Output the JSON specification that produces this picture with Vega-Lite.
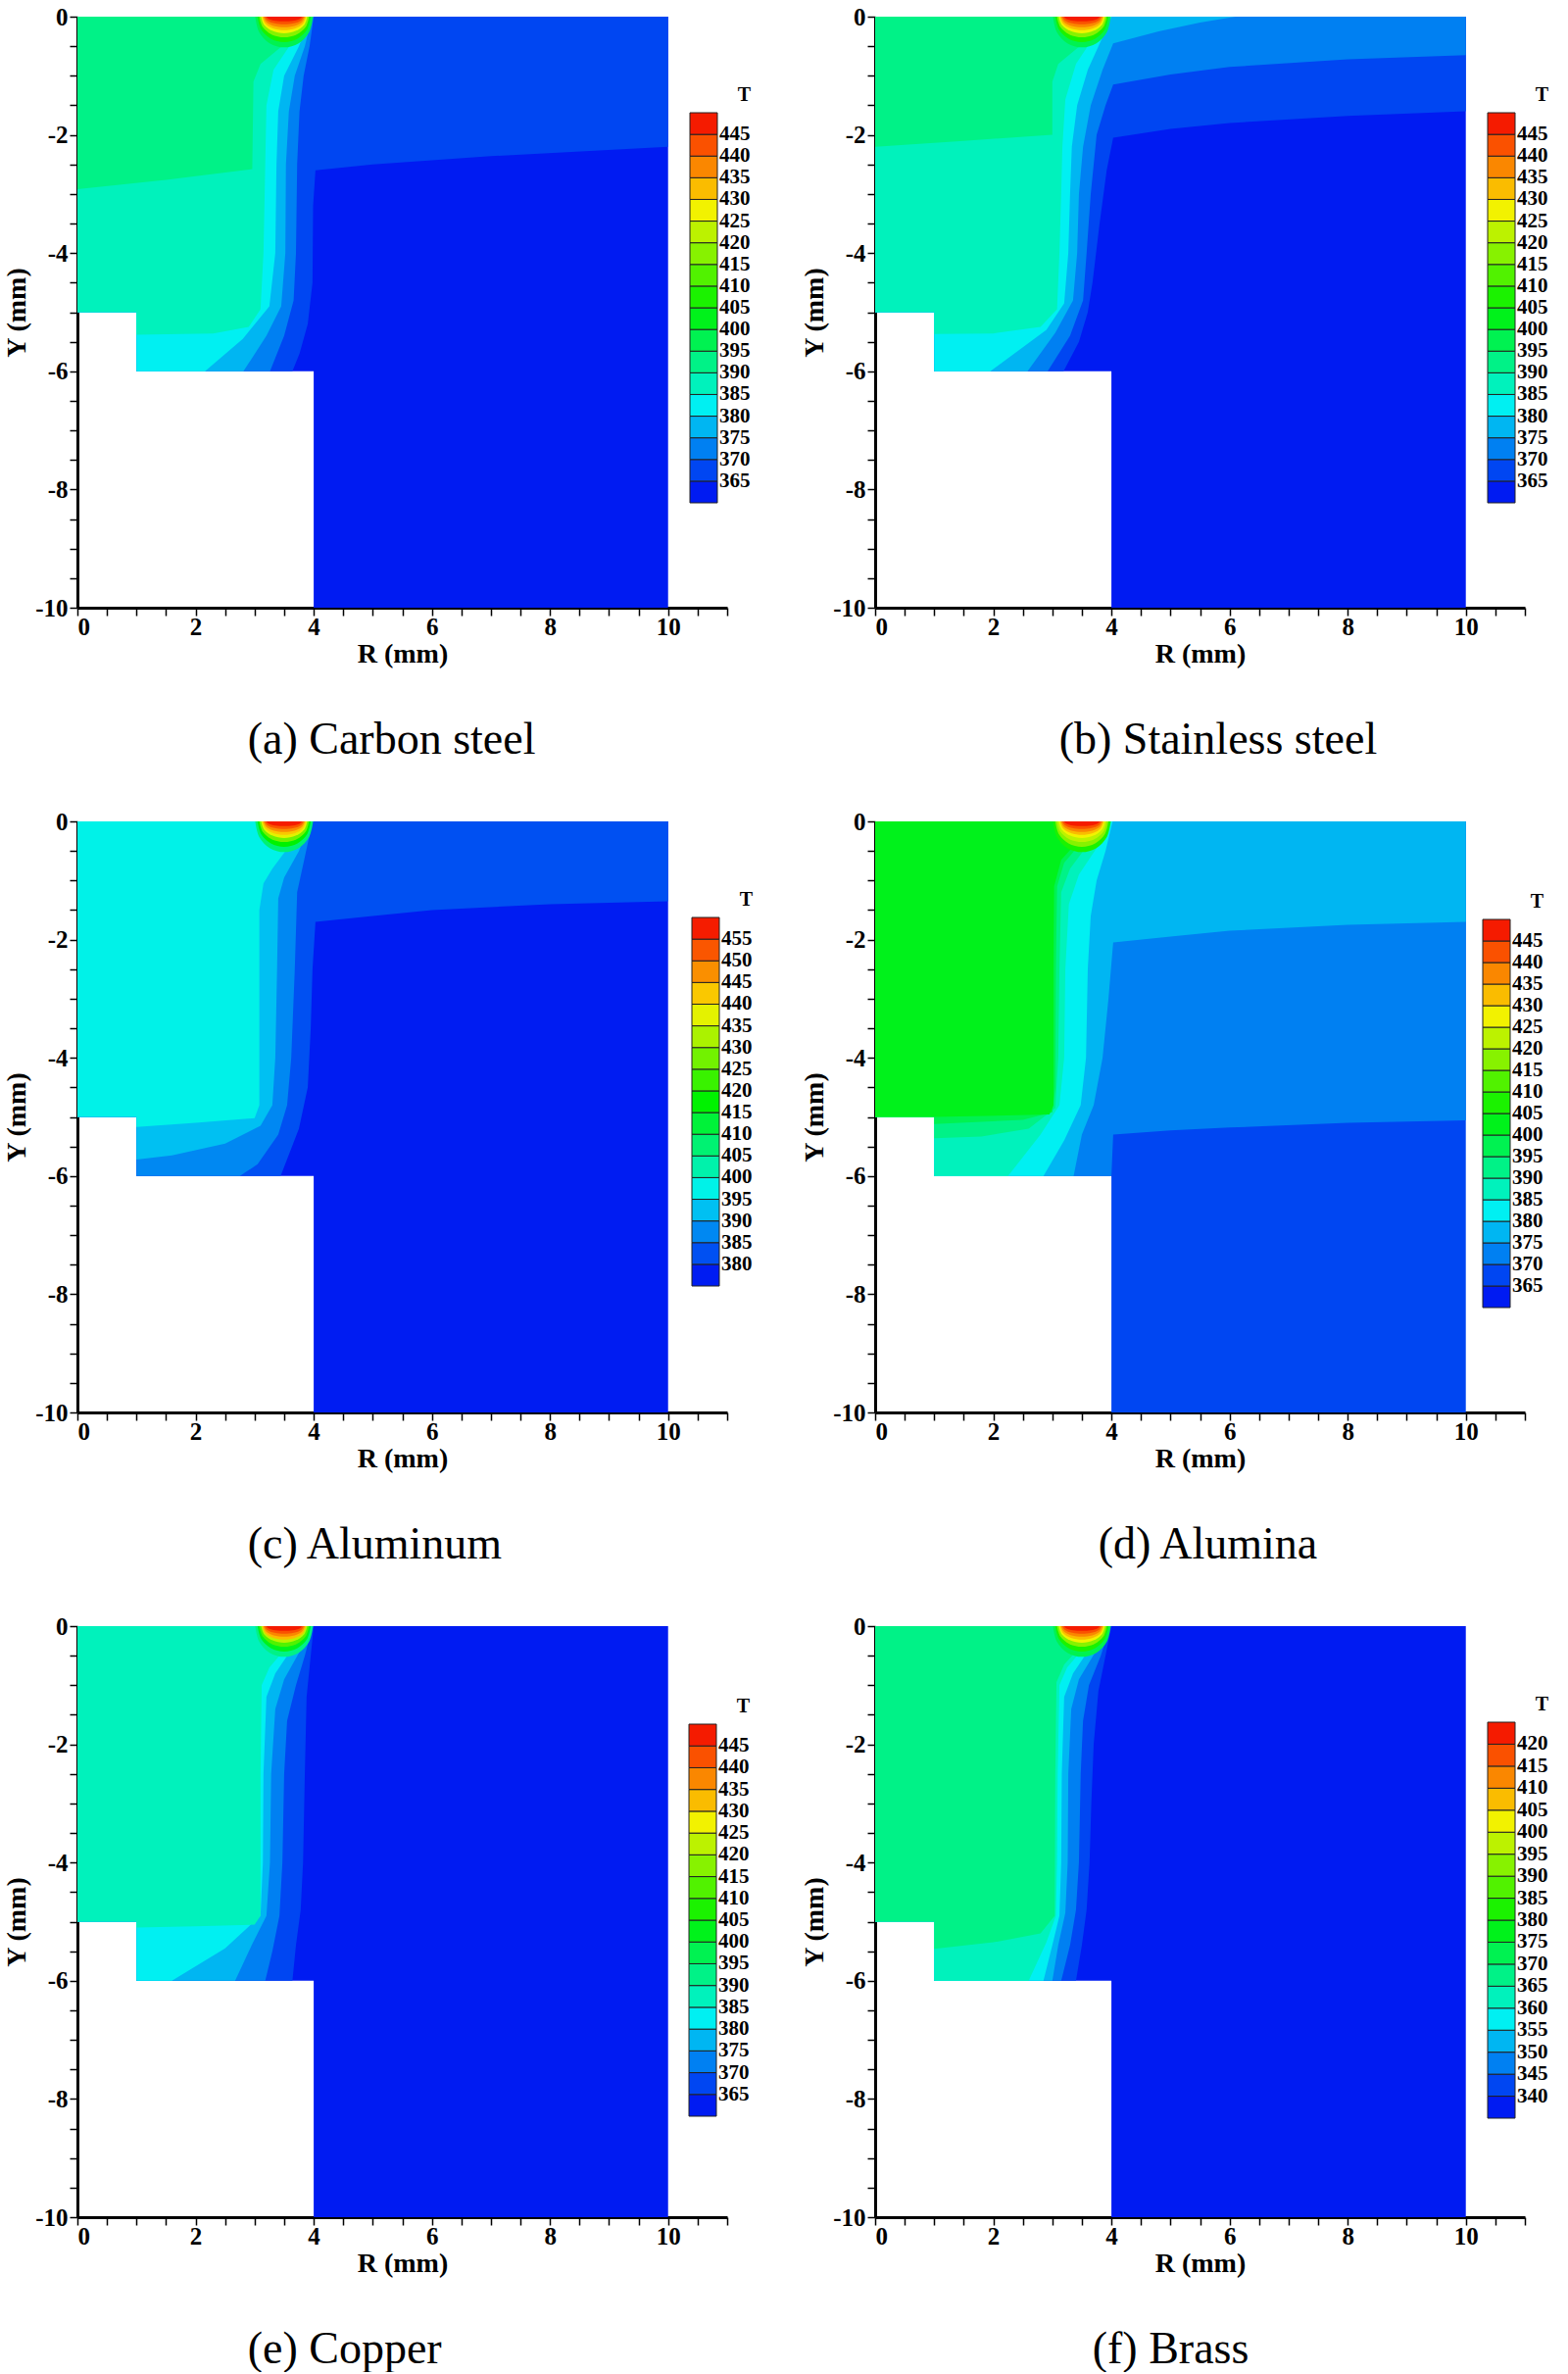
{
"$schema": "https://vega.github.io/schema/vega-lite/v6.json",
"background": "white",
"padding": {"left": 3, "top": 5, "right": 5, "bottom": 0},
"columns": 2,
"spacing": {"row": 218, "column": 151},
"bounds": "flush",
"resolve": {"scale": {"color": "independent", "x": "independent", "y": "independent"}, "legend": {"color": "independent"}},
"config": {
  "view": {"stroke": null},
  "axis": {"grid": false, "domainColor": "black", "domainWidth": 3, "tickColor": "black", "tickWidth": 1.5, "tickSize": 8, "labelFont": "Liberation Serif", "labelFontWeight": "bold", "labelFontSize": 25, "labelColor": "black", "labelPadding": 2, "labelOverlap": false, "labelBound": false, "titleFont": "Liberation Serif", "titleFontWeight": "bold", "titleFontSize": 28, "titleColor": "black"},
  "axisX": {"titlePadding": 1, "labelPadding": -1},
  "axisY": {"titlePadding": 4, "labelPadding": 2},
  "legend": {"gradientThickness": 28, "titleFont": "Liberation Serif", "titleFontSize": 20, "titleFontWeight": "bold", "titleColor": "black", "labelFont": "Liberation Serif", "labelFontSize": 21, "labelFontWeight": "bold", "labelColor": "black", "labelOverlap": false, "labelOffset": 12, "titlePadding": 8, "gradientStrokeColor": "#222222", "gradientStrokeWidth": 1, "padding": 0},
  "title": {"font": "Liberation Serif", "fontSize": 46, "fontWeight": "normal", "color": "black", "orient": "bottom", "anchor": "start", "offset": 52}
},
"datasets": {
"aB": [
{"g":"p0","o":0,"x":0,"y":0,"T":362},{"g":"p0","o":1,"x":10,"y":0,"T":362},{"g":"p0","o":2,"x":10,"y":-10,"T":362},{"g":"p0","o":3,"x":4,"y":-10,"T":362},{"g":"p0","o":4,"x":4,"y":-6,"T":362},{"g":"p0","o":5,"x":1,"y":-6,"T":362},{"g":"p0","o":6,"x":1,"y":-5,"T":362},{"g":"p0","o":7,"x":0,"y":-5,"T":362},
{"g":"p1","o":0,"x":0,"y":0,"T":367},{"g":"p1","o":1,"x":10,"y":0,"T":367},{"g":"p1","o":2,"x":10,"y":-2.2,"T":367},{"g":"p1","o":3,"x":7,"y":-2.36,"T":367},{"g":"p1","o":4,"x":5,"y":-2.5,"T":367},{"g":"p1","o":5,"x":4.03,"y":-2.6,"T":367},{"g":"p1","o":6,"x":3.99,"y":-3.2,"T":367},{"g":"p1","o":7,"x":3.98,"y":-4.5,"T":367},{"g":"p1","o":8,"x":3.9,"y":-5.2,"T":367},{"g":"p1","o":9,"x":3.76,"y":-5.7,"T":367},{"g":"p1","o":10,"x":3.64,"y":-6,"T":367},{"g":"p1","o":11,"x":1,"y":-6,"T":367},{"g":"p1","o":12,"x":1,"y":-5,"T":367},{"g":"p1","o":13,"x":0,"y":-5,"T":367},
{"g":"p2","o":0,"x":0,"y":0,"T":372},{"g":"p2","o":1,"x":4,"y":0,"T":372},{"g":"p2","o":2,"x":3.93,"y":-0.5,"T":372},{"g":"p2","o":3,"x":3.83,"y":-1,"T":372},{"g":"p2","o":4,"x":3.76,"y":-1.6,"T":372},{"g":"p2","o":5,"x":3.72,"y":-2.5,"T":372},{"g":"p2","o":6,"x":3.7,"y":-4,"T":372},{"g":"p2","o":7,"x":3.66,"y":-4.8,"T":372},{"g":"p2","o":8,"x":3.5,"y":-5.4,"T":372},{"g":"p2","o":9,"x":3.26,"y":-6,"T":372},{"g":"p2","o":10,"x":1,"y":-6,"T":372},{"g":"p2","o":11,"x":1,"y":-5,"T":372},{"g":"p2","o":12,"x":0,"y":-5,"T":372},
{"g":"p3","o":0,"x":0,"y":0,"T":377},{"g":"p3","o":1,"x":3.97,"y":0,"T":377},{"g":"p3","o":2,"x":3.85,"y":-0.5,"T":377},{"g":"p3","o":3,"x":3.68,"y":-1,"T":377},{"g":"p3","o":4,"x":3.58,"y":-1.6,"T":377},{"g":"p3","o":5,"x":3.53,"y":-2.5,"T":377},{"g":"p3","o":6,"x":3.52,"y":-4,"T":377},{"g":"p3","o":7,"x":3.45,"y":-4.9,"T":377},{"g":"p3","o":8,"x":3.2,"y":-5.4,"T":377},{"g":"p3","o":9,"x":2.81,"y":-6,"T":377},{"g":"p3","o":10,"x":1,"y":-6,"T":377},{"g":"p3","o":11,"x":1,"y":-5,"T":377},{"g":"p3","o":12,"x":0,"y":-5,"T":377},
{"g":"p4","o":0,"x":0,"y":0,"T":382},{"g":"p4","o":1,"x":3.95,"y":0,"T":382},{"g":"p4","o":2,"x":3.75,"y":-0.5,"T":382},{"g":"p4","o":3,"x":3.5,"y":-1,"T":382},{"g":"p4","o":4,"x":3.4,"y":-1.6,"T":382},{"g":"p4","o":5,"x":3.37,"y":-2.5,"T":382},{"g":"p4","o":6,"x":3.35,"y":-4,"T":382},{"g":"p4","o":7,"x":3.25,"y":-4.9,"T":382},{"g":"p4","o":8,"x":2.8,"y":-5.45,"T":382},{"g":"p4","o":9,"x":2.16,"y":-6,"T":382},{"g":"p4","o":10,"x":1,"y":-6,"T":382},{"g":"p4","o":11,"x":1,"y":-5,"T":382},{"g":"p4","o":12,"x":0,"y":-5,"T":382},
{"g":"p5","o":0,"x":0,"y":0,"T":387},{"g":"p5","o":1,"x":3.93,"y":0,"T":387},{"g":"p5","o":2,"x":3.62,"y":-0.45,"T":387},{"g":"p5","o":3,"x":3.32,"y":-0.9,"T":387},{"g":"p5","o":4,"x":3.2,"y":-1.5,"T":387},{"g":"p5","o":5,"x":3.18,"y":-2.5,"T":387},{"g":"p5","o":6,"x":3.15,"y":-4,"T":387},{"g":"p5","o":7,"x":3.1,"y":-4.95,"T":387},{"g":"p5","o":8,"x":2.9,"y":-5.25,"T":387},{"g":"p5","o":9,"x":2.3,"y":-5.36,"T":387},{"g":"p5","o":10,"x":1,"y":-5.38,"T":387},{"g":"p5","o":11,"x":1,"y":-5,"T":387},{"g":"p5","o":12,"x":0,"y":-5,"T":387},
{"g":"p6","o":0,"x":0,"y":0,"T":392},{"g":"p6","o":1,"x":3.9,"y":0,"T":392},{"g":"p6","o":2,"x":3.7,"y":-0.3,"T":392},{"g":"p6","o":3,"x":3.4,"y":-0.55,"T":392},{"g":"p6","o":4,"x":3.1,"y":-0.8,"T":392},{"g":"p6","o":5,"x":2.98,"y":-1.1,"T":392},{"g":"p6","o":6,"x":2.96,"y":-2.58,"T":392},{"g":"p6","o":7,"x":1.5,"y":-2.76,"T":392},{"g":"p6","o":8,"x":0,"y":-2.92,"T":392}
],
"aR": [
{"g":"r1","o":0,"x":3.01,"y":0,"T":397},{"g":"r1","o":1,"x":3.076,"y":-0.26,"T":397},{"g":"r1","o":2,"x":3.255,"y":-0.45,"T":397},{"g":"r1","o":3,"x":3.5,"y":-0.52,"T":397},{"g":"r1","o":4,"x":3.745,"y":-0.45,"T":397},{"g":"r1","o":5,"x":3.924,"y":-0.26,"T":397},{"g":"r1","o":6,"x":3.99,"y":0,"T":397},
{"g":"r2","o":0,"x":3.05,"y":0,"T":407},{"g":"r2","o":1,"x":3.11,"y":-0.215,"T":407},{"g":"r2","o":2,"x":3.275,"y":-0.372,"T":407},{"g":"r2","o":3,"x":3.5,"y":-0.43,"T":407},{"g":"r2","o":4,"x":3.725,"y":-0.372,"T":407},{"g":"r2","o":5,"x":3.89,"y":-0.215,"T":407},{"g":"r2","o":6,"x":3.95,"y":0,"T":407},
{"g":"r3","o":0,"x":3.08,"y":0,"T":417},{"g":"r3","o":1,"x":3.136,"y":-0.175,"T":417},{"g":"r3","o":2,"x":3.29,"y":-0.303,"T":417},{"g":"r3","o":3,"x":3.5,"y":-0.35,"T":417},{"g":"r3","o":4,"x":3.71,"y":-0.303,"T":417},{"g":"r3","o":5,"x":3.864,"y":-0.175,"T":417},{"g":"r3","o":6,"x":3.92,"y":0,"T":417},
{"g":"r4","o":0,"x":3.11,"y":0,"T":427},{"g":"r4","o":1,"x":3.162,"y":-0.14,"T":427},{"g":"r4","o":2,"x":3.305,"y":-0.242,"T":427},{"g":"r4","o":3,"x":3.5,"y":-0.28,"T":427},{"g":"r4","o":4,"x":3.695,"y":-0.242,"T":427},{"g":"r4","o":5,"x":3.838,"y":-0.14,"T":427},{"g":"r4","o":6,"x":3.89,"y":0,"T":427},
{"g":"r5","o":0,"x":3.13,"y":0,"T":432},{"g":"r5","o":1,"x":3.18,"y":-0.115,"T":432},{"g":"r5","o":2,"x":3.315,"y":-0.2,"T":432},{"g":"r5","o":3,"x":3.5,"y":-0.23,"T":432},{"g":"r5","o":4,"x":3.685,"y":-0.2,"T":432},{"g":"r5","o":5,"x":3.82,"y":-0.115,"T":432},{"g":"r5","o":6,"x":3.87,"y":0,"T":432},
{"g":"r6","o":0,"x":3.15,"y":0,"T":437},{"g":"r6","o":1,"x":3.197,"y":-0.09,"T":437},{"g":"r6","o":2,"x":3.325,"y":-0.156,"T":437},{"g":"r6","o":3,"x":3.5,"y":-0.18,"T":437},{"g":"r6","o":4,"x":3.675,"y":-0.156,"T":437},{"g":"r6","o":5,"x":3.803,"y":-0.09,"T":437},{"g":"r6","o":6,"x":3.85,"y":0,"T":437},
{"g":"r7","o":0,"x":3.17,"y":0,"T":442},{"g":"r7","o":1,"x":3.214,"y":-0.065,"T":442},{"g":"r7","o":2,"x":3.335,"y":-0.113,"T":442},{"g":"r7","o":3,"x":3.5,"y":-0.13,"T":442},{"g":"r7","o":4,"x":3.665,"y":-0.113,"T":442},{"g":"r7","o":5,"x":3.786,"y":-0.065,"T":442},{"g":"r7","o":6,"x":3.83,"y":0,"T":442},
{"g":"r8","o":0,"x":3.2,"y":0,"T":447},{"g":"r8","o":1,"x":3.24,"y":-0.04,"T":447},{"g":"r8","o":2,"x":3.35,"y":-0.069,"T":447},{"g":"r8","o":3,"x":3.5,"y":-0.08,"T":447},{"g":"r8","o":4,"x":3.65,"y":-0.069,"T":447},{"g":"r8","o":5,"x":3.76,"y":-0.04,"T":447},{"g":"r8","o":6,"x":3.8,"y":0,"T":447}
],
"bB": [
{"g":"p0","o":0,"x":0,"y":0,"T":362},{"g":"p0","o":1,"x":10,"y":0,"T":362},{"g":"p0","o":2,"x":10,"y":-10,"T":362},{"g":"p0","o":3,"x":4,"y":-10,"T":362},{"g":"p0","o":4,"x":4,"y":-6,"T":362},{"g":"p0","o":5,"x":1,"y":-6,"T":362},{"g":"p0","o":6,"x":1,"y":-5,"T":362},{"g":"p0","o":7,"x":0,"y":-5,"T":362},
{"g":"p1","o":0,"x":0,"y":0,"T":367},{"g":"p1","o":1,"x":10,"y":0,"T":367},{"g":"p1","o":2,"x":10,"y":-1.6,"T":367},{"g":"p1","o":3,"x":8,"y":-1.68,"T":367},{"g":"p1","o":4,"x":6,"y":-1.8,"T":367},{"g":"p1","o":5,"x":5,"y":-1.9,"T":367},{"g":"p1","o":6,"x":4.03,"y":-2.05,"T":367},{"g":"p1","o":7,"x":3.92,"y":-2.6,"T":367},{"g":"p1","o":8,"x":3.8,"y":-3.5,"T":367},{"g":"p1","o":9,"x":3.68,"y":-4.5,"T":367},{"g":"p1","o":10,"x":3.6,"y":-5,"T":367},{"g":"p1","o":11,"x":3.45,"y":-5.5,"T":367},{"g":"p1","o":12,"x":3.19,"y":-6,"T":367},{"g":"p1","o":13,"x":1,"y":-6,"T":367},{"g":"p1","o":14,"x":1,"y":-5,"T":367},{"g":"p1","o":15,"x":0,"y":-5,"T":367},
{"g":"p2","o":0,"x":0,"y":0,"T":372},{"g":"p2","o":1,"x":10,"y":0,"T":372},{"g":"p2","o":2,"x":10,"y":-0.65,"T":372},{"g":"p2","o":3,"x":8,"y":-0.72,"T":372},{"g":"p2","o":4,"x":6,"y":-0.85,"T":372},{"g":"p2","o":5,"x":5,"y":-0.98,"T":372},{"g":"p2","o":6,"x":4.03,"y":-1.15,"T":372},{"g":"p2","o":7,"x":3.9,"y":-1.5,"T":372},{"g":"p2","o":8,"x":3.75,"y":-2,"T":372},{"g":"p2","o":9,"x":3.65,"y":-3,"T":372},{"g":"p2","o":10,"x":3.58,"y":-4,"T":372},{"g":"p2","o":11,"x":3.52,"y":-4.8,"T":372},{"g":"p2","o":12,"x":3.3,"y":-5.4,"T":372},{"g":"p2","o":13,"x":2.92,"y":-6,"T":372},{"g":"p2","o":14,"x":1,"y":-6,"T":372},{"g":"p2","o":15,"x":1,"y":-5,"T":372},{"g":"p2","o":16,"x":0,"y":-5,"T":372},
{"g":"p3","o":0,"x":0,"y":0,"T":377},{"g":"p3","o":1,"x":6.1,"y":0,"T":377},{"g":"p3","o":2,"x":5.5,"y":-0.1,"T":377},{"g":"p3","o":3,"x":4.8,"y":-0.25,"T":377},{"g":"p3","o":4,"x":4.03,"y":-0.45,"T":377},{"g":"p3","o":5,"x":3.85,"y":-0.9,"T":377},{"g":"p3","o":6,"x":3.65,"y":-1.5,"T":377},{"g":"p3","o":7,"x":3.52,"y":-2.2,"T":377},{"g":"p3","o":8,"x":3.45,"y":-3,"T":377},{"g":"p3","o":9,"x":3.42,"y":-4,"T":377},{"g":"p3","o":10,"x":3.35,"y":-4.8,"T":377},{"g":"p3","o":11,"x":3.05,"y":-5.35,"T":377},{"g":"p3","o":12,"x":2.58,"y":-6,"T":377},{"g":"p3","o":13,"x":1,"y":-6,"T":377},{"g":"p3","o":14,"x":1,"y":-5,"T":377},{"g":"p3","o":15,"x":0,"y":-5,"T":377},
{"g":"p4","o":0,"x":0,"y":0,"T":382},{"g":"p4","o":1,"x":4,"y":0,"T":382},{"g":"p4","o":2,"x":3.85,"y":-0.35,"T":382},{"g":"p4","o":3,"x":3.6,"y":-0.9,"T":382},{"g":"p4","o":4,"x":3.42,"y":-1.5,"T":382},{"g":"p4","o":5,"x":3.33,"y":-2.2,"T":382},{"g":"p4","o":6,"x":3.3,"y":-3,"T":382},{"g":"p4","o":7,"x":3.27,"y":-4,"T":382},{"g":"p4","o":8,"x":3.2,"y":-4.85,"T":382},{"g":"p4","o":9,"x":2.9,"y":-5.3,"T":382},{"g":"p4","o":10,"x":1.95,"y":-6,"T":382},{"g":"p4","o":11,"x":1,"y":-6,"T":382},{"g":"p4","o":12,"x":1,"y":-5,"T":382},{"g":"p4","o":13,"x":0,"y":-5,"T":382},
{"g":"p5","o":0,"x":0,"y":0,"T":387},{"g":"p5","o":1,"x":3.95,"y":0,"T":387},{"g":"p5","o":2,"x":3.7,"y":-0.35,"T":387},{"g":"p5","o":3,"x":3.4,"y":-0.8,"T":387},{"g":"p5","o":4,"x":3.22,"y":-1.4,"T":387},{"g":"p5","o":5,"x":3.17,"y":-2.2,"T":387},{"g":"p5","o":6,"x":3.15,"y":-3,"T":387},{"g":"p5","o":7,"x":3.12,"y":-4,"T":387},{"g":"p5","o":8,"x":3.08,"y":-4.95,"T":387},{"g":"p5","o":9,"x":2.8,"y":-5.25,"T":387},{"g":"p5","o":10,"x":2,"y":-5.36,"T":387},{"g":"p5","o":11,"x":1,"y":-5.37,"T":387},{"g":"p5","o":12,"x":1,"y":-5,"T":387},{"g":"p5","o":13,"x":0,"y":-5,"T":387},
{"g":"p6","o":0,"x":0,"y":0,"T":392},{"g":"p6","o":1,"x":3.9,"y":0,"T":392},{"g":"p6","o":2,"x":3.7,"y":-0.3,"T":392},{"g":"p6","o":3,"x":3.4,"y":-0.55,"T":392},{"g":"p6","o":4,"x":3.1,"y":-0.8,"T":392},{"g":"p6","o":5,"x":3,"y":-1.1,"T":392},{"g":"p6","o":6,"x":3,"y":-2,"T":392},{"g":"p6","o":7,"x":1.5,"y":-2.1,"T":392},{"g":"p6","o":8,"x":0,"y":-2.2,"T":392}
],
"bR": [
{"g":"r1","o":0,"x":3.01,"y":0,"T":397},{"g":"r1","o":1,"x":3.076,"y":-0.26,"T":397},{"g":"r1","o":2,"x":3.255,"y":-0.45,"T":397},{"g":"r1","o":3,"x":3.5,"y":-0.52,"T":397},{"g":"r1","o":4,"x":3.745,"y":-0.45,"T":397},{"g":"r1","o":5,"x":3.924,"y":-0.26,"T":397},{"g":"r1","o":6,"x":3.99,"y":0,"T":397},
{"g":"r2","o":0,"x":3.05,"y":0,"T":407},{"g":"r2","o":1,"x":3.11,"y":-0.215,"T":407},{"g":"r2","o":2,"x":3.275,"y":-0.372,"T":407},{"g":"r2","o":3,"x":3.5,"y":-0.43,"T":407},{"g":"r2","o":4,"x":3.725,"y":-0.372,"T":407},{"g":"r2","o":5,"x":3.89,"y":-0.215,"T":407},{"g":"r2","o":6,"x":3.95,"y":0,"T":407},
{"g":"r3","o":0,"x":3.08,"y":0,"T":417},{"g":"r3","o":1,"x":3.136,"y":-0.175,"T":417},{"g":"r3","o":2,"x":3.29,"y":-0.303,"T":417},{"g":"r3","o":3,"x":3.5,"y":-0.35,"T":417},{"g":"r3","o":4,"x":3.71,"y":-0.303,"T":417},{"g":"r3","o":5,"x":3.864,"y":-0.175,"T":417},{"g":"r3","o":6,"x":3.92,"y":0,"T":417},
{"g":"r4","o":0,"x":3.11,"y":0,"T":427},{"g":"r4","o":1,"x":3.162,"y":-0.14,"T":427},{"g":"r4","o":2,"x":3.305,"y":-0.242,"T":427},{"g":"r4","o":3,"x":3.5,"y":-0.28,"T":427},{"g":"r4","o":4,"x":3.695,"y":-0.242,"T":427},{"g":"r4","o":5,"x":3.838,"y":-0.14,"T":427},{"g":"r4","o":6,"x":3.89,"y":0,"T":427},
{"g":"r5","o":0,"x":3.13,"y":0,"T":432},{"g":"r5","o":1,"x":3.18,"y":-0.115,"T":432},{"g":"r5","o":2,"x":3.315,"y":-0.2,"T":432},{"g":"r5","o":3,"x":3.5,"y":-0.23,"T":432},{"g":"r5","o":4,"x":3.685,"y":-0.2,"T":432},{"g":"r5","o":5,"x":3.82,"y":-0.115,"T":432},{"g":"r5","o":6,"x":3.87,"y":0,"T":432},
{"g":"r6","o":0,"x":3.15,"y":0,"T":437},{"g":"r6","o":1,"x":3.197,"y":-0.09,"T":437},{"g":"r6","o":2,"x":3.325,"y":-0.156,"T":437},{"g":"r6","o":3,"x":3.5,"y":-0.18,"T":437},{"g":"r6","o":4,"x":3.675,"y":-0.156,"T":437},{"g":"r6","o":5,"x":3.803,"y":-0.09,"T":437},{"g":"r6","o":6,"x":3.85,"y":0,"T":437},
{"g":"r7","o":0,"x":3.17,"y":0,"T":442},{"g":"r7","o":1,"x":3.214,"y":-0.065,"T":442},{"g":"r7","o":2,"x":3.335,"y":-0.113,"T":442},{"g":"r7","o":3,"x":3.5,"y":-0.13,"T":442},{"g":"r7","o":4,"x":3.665,"y":-0.113,"T":442},{"g":"r7","o":5,"x":3.786,"y":-0.065,"T":442},{"g":"r7","o":6,"x":3.83,"y":0,"T":442},
{"g":"r8","o":0,"x":3.2,"y":0,"T":447},{"g":"r8","o":1,"x":3.24,"y":-0.04,"T":447},{"g":"r8","o":2,"x":3.35,"y":-0.069,"T":447},{"g":"r8","o":3,"x":3.5,"y":-0.08,"T":447},{"g":"r8","o":4,"x":3.65,"y":-0.069,"T":447},{"g":"r8","o":5,"x":3.76,"y":-0.04,"T":447},{"g":"r8","o":6,"x":3.8,"y":0,"T":447}
],
"cB": [
{"g":"p0","o":0,"x":0,"y":0,"T":377},{"g":"p0","o":1,"x":10,"y":0,"T":377},{"g":"p0","o":2,"x":10,"y":-10,"T":377},{"g":"p0","o":3,"x":4,"y":-10,"T":377},{"g":"p0","o":4,"x":4,"y":-6,"T":377},{"g":"p0","o":5,"x":1,"y":-6,"T":377},{"g":"p0","o":6,"x":1,"y":-5,"T":377},{"g":"p0","o":7,"x":0,"y":-5,"T":377},
{"g":"p1","o":0,"x":0,"y":0,"T":382},{"g":"p1","o":1,"x":10,"y":0,"T":382},{"g":"p1","o":2,"x":10,"y":-1.35,"T":382},{"g":"p1","o":3,"x":8,"y":-1.4,"T":382},{"g":"p1","o":4,"x":6,"y":-1.5,"T":382},{"g":"p1","o":5,"x":5,"y":-1.6,"T":382},{"g":"p1","o":6,"x":4.03,"y":-1.7,"T":382},{"g":"p1","o":7,"x":3.98,"y":-2.5,"T":382},{"g":"p1","o":8,"x":3.95,"y":-3.5,"T":382},{"g":"p1","o":9,"x":3.9,"y":-4.5,"T":382},{"g":"p1","o":10,"x":3.75,"y":-5.2,"T":382},{"g":"p1","o":11,"x":3.44,"y":-6,"T":382},{"g":"p1","o":12,"x":1,"y":-6,"T":382},{"g":"p1","o":13,"x":1,"y":-5,"T":382},{"g":"p1","o":14,"x":0,"y":-5,"T":382},
{"g":"p2","o":0,"x":0,"y":0,"T":387},{"g":"p2","o":1,"x":3.98,"y":0,"T":387},{"g":"p2","o":2,"x":3.85,"y":-0.6,"T":387},{"g":"p2","o":3,"x":3.72,"y":-1.2,"T":387},{"g":"p2","o":4,"x":3.68,"y":-2.5,"T":387},{"g":"p2","o":5,"x":3.62,"y":-4,"T":387},{"g":"p2","o":6,"x":3.55,"y":-4.8,"T":387},{"g":"p2","o":7,"x":3.4,"y":-5.3,"T":387},{"g":"p2","o":8,"x":3.05,"y":-5.8,"T":387},{"g":"p2","o":9,"x":2.75,"y":-6,"T":387},{"g":"p2","o":10,"x":1,"y":-6,"T":387},{"g":"p2","o":11,"x":1,"y":-5,"T":387},{"g":"p2","o":12,"x":0,"y":-5,"T":387},
{"g":"p3","o":0,"x":0,"y":0,"T":392},{"g":"p3","o":1,"x":3.95,"y":0,"T":392},{"g":"p3","o":2,"x":3.75,"y":-0.5,"T":392},{"g":"p3","o":3,"x":3.5,"y":-0.95,"T":392},{"g":"p3","o":4,"x":3.4,"y":-1.3,"T":392},{"g":"p3","o":5,"x":3.38,"y":-2.5,"T":392},{"g":"p3","o":6,"x":3.35,"y":-4,"T":392},{"g":"p3","o":7,"x":3.3,"y":-4.8,"T":392},{"g":"p3","o":8,"x":3.1,"y":-5.15,"T":392},{"g":"p3","o":9,"x":2.5,"y":-5.45,"T":392},{"g":"p3","o":10,"x":1.6,"y":-5.65,"T":392},{"g":"p3","o":11,"x":1,"y":-5.72,"T":392},{"g":"p3","o":12,"x":1,"y":-5,"T":392},{"g":"p3","o":13,"x":0,"y":-5,"T":392},
{"g":"p4","o":0,"x":0,"y":0,"T":397},{"g":"p4","o":1,"x":3.9,"y":0,"T":397},{"g":"p4","o":2,"x":3.6,"y":-0.4,"T":397},{"g":"p4","o":3,"x":3.3,"y":-0.8,"T":397},{"g":"p4","o":4,"x":3.15,"y":-1.05,"T":397},{"g":"p4","o":5,"x":3.08,"y":-1.5,"T":397},{"g":"p4","o":6,"x":3.08,"y":-4.8,"T":397},{"g":"p4","o":7,"x":3,"y":-5.02,"T":397},{"g":"p4","o":8,"x":2,"y":-5.1,"T":397},{"g":"p4","o":9,"x":1,"y":-5.17,"T":397},{"g":"p4","o":10,"x":1,"y":-5,"T":397},{"g":"p4","o":11,"x":0,"y":-5,"T":397}
],
"cR": [
{"g":"r1","o":0,"x":3.01,"y":0,"T":407},{"g":"r1","o":1,"x":3.076,"y":-0.26,"T":407},{"g":"r1","o":2,"x":3.255,"y":-0.45,"T":407},{"g":"r1","o":3,"x":3.5,"y":-0.52,"T":407},{"g":"r1","o":4,"x":3.745,"y":-0.45,"T":407},{"g":"r1","o":5,"x":3.924,"y":-0.26,"T":407},{"g":"r1","o":6,"x":3.99,"y":0,"T":407},
{"g":"r2","o":0,"x":3.05,"y":0,"T":417},{"g":"r2","o":1,"x":3.11,"y":-0.215,"T":417},{"g":"r2","o":2,"x":3.275,"y":-0.372,"T":417},{"g":"r2","o":3,"x":3.5,"y":-0.43,"T":417},{"g":"r2","o":4,"x":3.725,"y":-0.372,"T":417},{"g":"r2","o":5,"x":3.89,"y":-0.215,"T":417},{"g":"r2","o":6,"x":3.95,"y":0,"T":417},
{"g":"r3","o":0,"x":3.08,"y":0,"T":427},{"g":"r3","o":1,"x":3.136,"y":-0.175,"T":427},{"g":"r3","o":2,"x":3.29,"y":-0.303,"T":427},{"g":"r3","o":3,"x":3.5,"y":-0.35,"T":427},{"g":"r3","o":4,"x":3.71,"y":-0.303,"T":427},{"g":"r3","o":5,"x":3.864,"y":-0.175,"T":427},{"g":"r3","o":6,"x":3.92,"y":0,"T":427},
{"g":"r4","o":0,"x":3.11,"y":0,"T":437},{"g":"r4","o":1,"x":3.162,"y":-0.14,"T":437},{"g":"r4","o":2,"x":3.305,"y":-0.242,"T":437},{"g":"r4","o":3,"x":3.5,"y":-0.28,"T":437},{"g":"r4","o":4,"x":3.695,"y":-0.242,"T":437},{"g":"r4","o":5,"x":3.838,"y":-0.14,"T":437},{"g":"r4","o":6,"x":3.89,"y":0,"T":437},
{"g":"r5","o":0,"x":3.13,"y":0,"T":442},{"g":"r5","o":1,"x":3.18,"y":-0.115,"T":442},{"g":"r5","o":2,"x":3.315,"y":-0.2,"T":442},{"g":"r5","o":3,"x":3.5,"y":-0.23,"T":442},{"g":"r5","o":4,"x":3.685,"y":-0.2,"T":442},{"g":"r5","o":5,"x":3.82,"y":-0.115,"T":442},{"g":"r5","o":6,"x":3.87,"y":0,"T":442},
{"g":"r6","o":0,"x":3.15,"y":0,"T":447},{"g":"r6","o":1,"x":3.197,"y":-0.09,"T":447},{"g":"r6","o":2,"x":3.325,"y":-0.156,"T":447},{"g":"r6","o":3,"x":3.5,"y":-0.18,"T":447},{"g":"r6","o":4,"x":3.675,"y":-0.156,"T":447},{"g":"r6","o":5,"x":3.803,"y":-0.09,"T":447},{"g":"r6","o":6,"x":3.85,"y":0,"T":447},
{"g":"r7","o":0,"x":3.17,"y":0,"T":452},{"g":"r7","o":1,"x":3.214,"y":-0.065,"T":452},{"g":"r7","o":2,"x":3.335,"y":-0.113,"T":452},{"g":"r7","o":3,"x":3.5,"y":-0.13,"T":452},{"g":"r7","o":4,"x":3.665,"y":-0.113,"T":452},{"g":"r7","o":5,"x":3.786,"y":-0.065,"T":452},{"g":"r7","o":6,"x":3.83,"y":0,"T":452},
{"g":"r8","o":0,"x":3.2,"y":0,"T":457},{"g":"r8","o":1,"x":3.24,"y":-0.04,"T":457},{"g":"r8","o":2,"x":3.35,"y":-0.069,"T":457},{"g":"r8","o":3,"x":3.5,"y":-0.08,"T":457},{"g":"r8","o":4,"x":3.65,"y":-0.069,"T":457},{"g":"r8","o":5,"x":3.76,"y":-0.04,"T":457},{"g":"r8","o":6,"x":3.8,"y":0,"T":457}
],
"dB": [
{"g":"p0","o":0,"x":0,"y":0,"T":367},{"g":"p0","o":1,"x":10,"y":0,"T":367},{"g":"p0","o":2,"x":10,"y":-10,"T":367},{"g":"p0","o":3,"x":4,"y":-10,"T":367},{"g":"p0","o":4,"x":4,"y":-6,"T":367},{"g":"p0","o":5,"x":1,"y":-6,"T":367},{"g":"p0","o":6,"x":1,"y":-5,"T":367},{"g":"p0","o":7,"x":0,"y":-5,"T":367},
{"g":"p1","o":0,"x":0,"y":0,"T":372},{"g":"p1","o":1,"x":10,"y":0,"T":372},{"g":"p1","o":2,"x":10,"y":-5.06,"T":372},{"g":"p1","o":3,"x":8,"y":-5.1,"T":372},{"g":"p1","o":4,"x":6,"y":-5.18,"T":372},{"g":"p1","o":5,"x":5,"y":-5.23,"T":372},{"g":"p1","o":6,"x":4.03,"y":-5.3,"T":372},{"g":"p1","o":7,"x":4,"y":-6,"T":372},{"g":"p1","o":8,"x":1,"y":-6,"T":372},{"g":"p1","o":9,"x":1,"y":-5,"T":372},{"g":"p1","o":10,"x":0,"y":-5,"T":372},
{"g":"p2","o":0,"x":0,"y":0,"T":377},{"g":"p2","o":1,"x":10,"y":0,"T":377},{"g":"p2","o":2,"x":10,"y":-1.7,"T":377},{"g":"p2","o":3,"x":8,"y":-1.75,"T":377},{"g":"p2","o":4,"x":6,"y":-1.85,"T":377},{"g":"p2","o":5,"x":5,"y":-1.95,"T":377},{"g":"p2","o":6,"x":4.03,"y":-2.05,"T":377},{"g":"p2","o":7,"x":3.95,"y":-3,"T":377},{"g":"p2","o":8,"x":3.85,"y":-4,"T":377},{"g":"p2","o":9,"x":3.7,"y":-4.8,"T":377},{"g":"p2","o":10,"x":3.5,"y":-5.3,"T":377},{"g":"p2","o":11,"x":3.36,"y":-6,"T":377},{"g":"p2","o":12,"x":1,"y":-6,"T":377},{"g":"p2","o":13,"x":1,"y":-5,"T":377},{"g":"p2","o":14,"x":0,"y":-5,"T":377},
{"g":"p3","o":0,"x":0,"y":0,"T":382},{"g":"p3","o":1,"x":4.02,"y":0,"T":382},{"g":"p3","o":2,"x":3.9,"y":-0.5,"T":382},{"g":"p3","o":3,"x":3.75,"y":-1,"T":382},{"g":"p3","o":4,"x":3.65,"y":-1.6,"T":382},{"g":"p3","o":5,"x":3.6,"y":-2.5,"T":382},{"g":"p3","o":6,"x":3.57,"y":-4,"T":382},{"g":"p3","o":7,"x":3.48,"y":-4.8,"T":382},{"g":"p3","o":8,"x":3.2,"y":-5.4,"T":382},{"g":"p3","o":9,"x":2.85,"y":-6,"T":382},{"g":"p3","o":10,"x":1,"y":-6,"T":382},{"g":"p3","o":11,"x":1,"y":-5,"T":382},{"g":"p3","o":12,"x":0,"y":-5,"T":382},
{"g":"p4","o":0,"x":0,"y":0,"T":387},{"g":"p4","o":1,"x":3.98,"y":0,"T":387},{"g":"p4","o":2,"x":3.75,"y":-0.45,"T":387},{"g":"p4","o":3,"x":3.45,"y":-0.9,"T":387},{"g":"p4","o":4,"x":3.28,"y":-1.4,"T":387},{"g":"p4","o":5,"x":3.22,"y":-2.5,"T":387},{"g":"p4","o":6,"x":3.2,"y":-4,"T":387},{"g":"p4","o":7,"x":3.12,"y":-4.8,"T":387},{"g":"p4","o":8,"x":2.8,"y":-5.3,"T":387},{"g":"p4","o":9,"x":2.25,"y":-6,"T":387},{"g":"p4","o":10,"x":1,"y":-6,"T":387},{"g":"p4","o":11,"x":1,"y":-5,"T":387},{"g":"p4","o":12,"x":0,"y":-5,"T":387},
{"g":"p5","o":0,"x":0,"y":0,"T":392},{"g":"p5","o":1,"x":3.95,"y":0,"T":392},{"g":"p5","o":2,"x":3.6,"y":-0.4,"T":392},{"g":"p5","o":3,"x":3.3,"y":-0.8,"T":392},{"g":"p5","o":4,"x":3.15,"y":-1.2,"T":392},{"g":"p5","o":5,"x":3.12,"y":-2.5,"T":392},{"g":"p5","o":6,"x":3.1,"y":-4,"T":392},{"g":"p5","o":7,"x":3.05,"y":-4.85,"T":392},{"g":"p5","o":8,"x":2.6,"y":-5.2,"T":392},{"g":"p5","o":9,"x":1.8,"y":-5.33,"T":392},{"g":"p5","o":10,"x":1,"y":-5.36,"T":392},{"g":"p5","o":11,"x":1,"y":-5,"T":392},{"g":"p5","o":12,"x":0,"y":-5,"T":392},
{"g":"p6","o":0,"x":0,"y":0,"T":397},{"g":"p6","o":1,"x":3.92,"y":0,"T":397},{"g":"p6","o":2,"x":3.5,"y":-0.35,"T":397},{"g":"p6","o":3,"x":3.2,"y":-0.7,"T":397},{"g":"p6","o":4,"x":3.08,"y":-1.1,"T":397},{"g":"p6","o":5,"x":3.06,"y":-2.5,"T":397},{"g":"p6","o":6,"x":3.05,"y":-4.5,"T":397},{"g":"p6","o":7,"x":3,"y":-4.92,"T":397},{"g":"p6","o":8,"x":2.5,"y":-5.05,"T":397},{"g":"p6","o":9,"x":1,"y":-5.12,"T":397},{"g":"p6","o":10,"x":1,"y":-5,"T":397},{"g":"p6","o":11,"x":0,"y":-5,"T":397},
{"g":"p7","o":0,"x":0,"y":0,"T":402},{"g":"p7","o":1,"x":3.9,"y":0,"T":402},{"g":"p7","o":2,"x":3.45,"y":-0.32,"T":402},{"g":"p7","o":3,"x":3.15,"y":-0.65,"T":402},{"g":"p7","o":4,"x":3.03,"y":-1.1,"T":402},{"g":"p7","o":5,"x":3.02,"y":-2.5,"T":402},{"g":"p7","o":6,"x":3.02,"y":-4.8,"T":402},{"g":"p7","o":7,"x":2.95,"y":-4.96,"T":402},{"g":"p7","o":8,"x":1,"y":-5,"T":402},{"g":"p7","o":9,"x":0,"y":-5,"T":402}
],
"dR": [
{"g":"r1","o":0,"x":3.01,"y":0,"T":407},{"g":"r1","o":1,"x":3.076,"y":-0.26,"T":407},{"g":"r1","o":2,"x":3.255,"y":-0.45,"T":407},{"g":"r1","o":3,"x":3.5,"y":-0.52,"T":407},{"g":"r1","o":4,"x":3.745,"y":-0.45,"T":407},{"g":"r1","o":5,"x":3.924,"y":-0.26,"T":407},{"g":"r1","o":6,"x":3.99,"y":0,"T":407},
{"g":"r2","o":0,"x":3.05,"y":0,"T":417},{"g":"r2","o":1,"x":3.11,"y":-0.215,"T":417},{"g":"r2","o":2,"x":3.275,"y":-0.372,"T":417},{"g":"r2","o":3,"x":3.5,"y":-0.43,"T":417},{"g":"r2","o":4,"x":3.725,"y":-0.372,"T":417},{"g":"r2","o":5,"x":3.89,"y":-0.215,"T":417},{"g":"r2","o":6,"x":3.95,"y":0,"T":417},
{"g":"r3","o":0,"x":3.08,"y":0,"T":422},{"g":"r3","o":1,"x":3.136,"y":-0.175,"T":422},{"g":"r3","o":2,"x":3.29,"y":-0.303,"T":422},{"g":"r3","o":3,"x":3.5,"y":-0.35,"T":422},{"g":"r3","o":4,"x":3.71,"y":-0.303,"T":422},{"g":"r3","o":5,"x":3.864,"y":-0.175,"T":422},{"g":"r3","o":6,"x":3.92,"y":0,"T":422},
{"g":"r4","o":0,"x":3.11,"y":0,"T":427},{"g":"r4","o":1,"x":3.162,"y":-0.14,"T":427},{"g":"r4","o":2,"x":3.305,"y":-0.242,"T":427},{"g":"r4","o":3,"x":3.5,"y":-0.28,"T":427},{"g":"r4","o":4,"x":3.695,"y":-0.242,"T":427},{"g":"r4","o":5,"x":3.838,"y":-0.14,"T":427},{"g":"r4","o":6,"x":3.89,"y":0,"T":427},
{"g":"r5","o":0,"x":3.13,"y":0,"T":432},{"g":"r5","o":1,"x":3.18,"y":-0.115,"T":432},{"g":"r5","o":2,"x":3.315,"y":-0.2,"T":432},{"g":"r5","o":3,"x":3.5,"y":-0.23,"T":432},{"g":"r5","o":4,"x":3.685,"y":-0.2,"T":432},{"g":"r5","o":5,"x":3.82,"y":-0.115,"T":432},{"g":"r5","o":6,"x":3.87,"y":0,"T":432},
{"g":"r6","o":0,"x":3.15,"y":0,"T":437},{"g":"r6","o":1,"x":3.197,"y":-0.09,"T":437},{"g":"r6","o":2,"x":3.325,"y":-0.156,"T":437},{"g":"r6","o":3,"x":3.5,"y":-0.18,"T":437},{"g":"r6","o":4,"x":3.675,"y":-0.156,"T":437},{"g":"r6","o":5,"x":3.803,"y":-0.09,"T":437},{"g":"r6","o":6,"x":3.85,"y":0,"T":437},
{"g":"r7","o":0,"x":3.17,"y":0,"T":442},{"g":"r7","o":1,"x":3.214,"y":-0.065,"T":442},{"g":"r7","o":2,"x":3.335,"y":-0.113,"T":442},{"g":"r7","o":3,"x":3.5,"y":-0.13,"T":442},{"g":"r7","o":4,"x":3.665,"y":-0.113,"T":442},{"g":"r7","o":5,"x":3.786,"y":-0.065,"T":442},{"g":"r7","o":6,"x":3.83,"y":0,"T":442},
{"g":"r8","o":0,"x":3.2,"y":0,"T":447},{"g":"r8","o":1,"x":3.24,"y":-0.04,"T":447},{"g":"r8","o":2,"x":3.35,"y":-0.069,"T":447},{"g":"r8","o":3,"x":3.5,"y":-0.08,"T":447},{"g":"r8","o":4,"x":3.65,"y":-0.069,"T":447},{"g":"r8","o":5,"x":3.76,"y":-0.04,"T":447},{"g":"r8","o":6,"x":3.8,"y":0,"T":447}
],
"eB": [
{"g":"p0","o":0,"x":0,"y":0,"T":362},{"g":"p0","o":1,"x":10,"y":0,"T":362},{"g":"p0","o":2,"x":10,"y":-10,"T":362},{"g":"p0","o":3,"x":4,"y":-10,"T":362},{"g":"p0","o":4,"x":4,"y":-6,"T":362},{"g":"p0","o":5,"x":1,"y":-6,"T":362},{"g":"p0","o":6,"x":1,"y":-5,"T":362},{"g":"p0","o":7,"x":0,"y":-5,"T":362},
{"g":"p1","o":0,"x":0,"y":0,"T":367},{"g":"p1","o":1,"x":4,"y":0,"T":367},{"g":"p1","o":2,"x":3.95,"y":-0.5,"T":367},{"g":"p1","o":3,"x":3.88,"y":-1.2,"T":367},{"g":"p1","o":4,"x":3.85,"y":-2.5,"T":367},{"g":"p1","o":5,"x":3.82,"y":-4,"T":367},{"g":"p1","o":6,"x":3.78,"y":-4.8,"T":367},{"g":"p1","o":7,"x":3.7,"y":-5.4,"T":367},{"g":"p1","o":8,"x":3.64,"y":-6,"T":367},{"g":"p1","o":9,"x":1,"y":-6,"T":367},{"g":"p1","o":10,"x":1,"y":-5,"T":367},{"g":"p1","o":11,"x":0,"y":-5,"T":367},
{"g":"p2","o":0,"x":0,"y":0,"T":372},{"g":"p2","o":1,"x":3.98,"y":0,"T":372},{"g":"p2","o":2,"x":3.85,"y":-0.5,"T":372},{"g":"p2","o":3,"x":3.7,"y":-1,"T":372},{"g":"p2","o":4,"x":3.55,"y":-1.6,"T":372},{"g":"p2","o":5,"x":3.5,"y":-2.5,"T":372},{"g":"p2","o":6,"x":3.47,"y":-4,"T":372},{"g":"p2","o":7,"x":3.42,"y":-4.9,"T":372},{"g":"p2","o":8,"x":3.3,"y":-5.5,"T":372},{"g":"p2","o":9,"x":3.18,"y":-6,"T":372},{"g":"p2","o":10,"x":1,"y":-6,"T":372},{"g":"p2","o":11,"x":1,"y":-5,"T":372},{"g":"p2","o":12,"x":0,"y":-5,"T":372},
{"g":"p3","o":0,"x":0,"y":0,"T":377},{"g":"p3","o":1,"x":3.95,"y":0,"T":377},{"g":"p3","o":2,"x":3.75,"y":-0.45,"T":377},{"g":"p3","o":3,"x":3.5,"y":-0.9,"T":377},{"g":"p3","o":4,"x":3.35,"y":-1.4,"T":377},{"g":"p3","o":5,"x":3.28,"y":-2.5,"T":377},{"g":"p3","o":6,"x":3.26,"y":-4,"T":377},{"g":"p3","o":7,"x":3.2,"y":-4.9,"T":377},{"g":"p3","o":8,"x":2.95,"y":-5.4,"T":377},{"g":"p3","o":9,"x":2.67,"y":-6,"T":377},{"g":"p3","o":10,"x":1,"y":-6,"T":377},{"g":"p3","o":11,"x":1,"y":-5,"T":377},{"g":"p3","o":12,"x":0,"y":-5,"T":377},
{"g":"p4","o":0,"x":0,"y":0,"T":382},{"g":"p4","o":1,"x":3.92,"y":0,"T":382},{"g":"p4","o":2,"x":3.62,"y":-0.4,"T":382},{"g":"p4","o":3,"x":3.35,"y":-0.8,"T":382},{"g":"p4","o":4,"x":3.2,"y":-1.2,"T":382},{"g":"p4","o":5,"x":3.15,"y":-2.5,"T":382},{"g":"p4","o":6,"x":3.14,"y":-4,"T":382},{"g":"p4","o":7,"x":3.1,"y":-4.9,"T":382},{"g":"p4","o":8,"x":2.5,"y":-5.45,"T":382},{"g":"p4","o":9,"x":1.6,"y":-6,"T":382},{"g":"p4","o":10,"x":1,"y":-6,"T":382},{"g":"p4","o":11,"x":1,"y":-5,"T":382},{"g":"p4","o":12,"x":0,"y":-5,"T":382},
{"g":"p5","o":0,"x":0,"y":0,"T":387},{"g":"p5","o":1,"x":3.9,"y":0,"T":387},{"g":"p5","o":2,"x":3.55,"y":-0.35,"T":387},{"g":"p5","o":3,"x":3.25,"y":-0.7,"T":387},{"g":"p5","o":4,"x":3.12,"y":-1,"T":387},{"g":"p5","o":5,"x":3.1,"y":-2.5,"T":387},{"g":"p5","o":6,"x":3.1,"y":-4.9,"T":387},{"g":"p5","o":7,"x":3,"y":-5.05,"T":387},{"g":"p5","o":8,"x":2,"y":-5.08,"T":387},{"g":"p5","o":9,"x":1,"y":-5.1,"T":387},{"g":"p5","o":10,"x":1,"y":-5,"T":387},{"g":"p5","o":11,"x":0,"y":-5,"T":387}
],
"eR": [
{"g":"r1","o":0,"x":3.01,"y":0,"T":392},{"g":"r1","o":1,"x":3.076,"y":-0.26,"T":392},{"g":"r1","o":2,"x":3.255,"y":-0.45,"T":392},{"g":"r1","o":3,"x":3.5,"y":-0.52,"T":392},{"g":"r1","o":4,"x":3.745,"y":-0.45,"T":392},{"g":"r1","o":5,"x":3.924,"y":-0.26,"T":392},{"g":"r1","o":6,"x":3.99,"y":0,"T":392},
{"g":"r2","o":0,"x":3.05,"y":0,"T":402},{"g":"r2","o":1,"x":3.11,"y":-0.215,"T":402},{"g":"r2","o":2,"x":3.275,"y":-0.372,"T":402},{"g":"r2","o":3,"x":3.5,"y":-0.43,"T":402},{"g":"r2","o":4,"x":3.725,"y":-0.372,"T":402},{"g":"r2","o":5,"x":3.89,"y":-0.215,"T":402},{"g":"r2","o":6,"x":3.95,"y":0,"T":402},
{"g":"r3","o":0,"x":3.08,"y":0,"T":412},{"g":"r3","o":1,"x":3.136,"y":-0.175,"T":412},{"g":"r3","o":2,"x":3.29,"y":-0.303,"T":412},{"g":"r3","o":3,"x":3.5,"y":-0.35,"T":412},{"g":"r3","o":4,"x":3.71,"y":-0.303,"T":412},{"g":"r3","o":5,"x":3.864,"y":-0.175,"T":412},{"g":"r3","o":6,"x":3.92,"y":0,"T":412},
{"g":"r4","o":0,"x":3.11,"y":0,"T":422},{"g":"r4","o":1,"x":3.162,"y":-0.14,"T":422},{"g":"r4","o":2,"x":3.305,"y":-0.242,"T":422},{"g":"r4","o":3,"x":3.5,"y":-0.28,"T":422},{"g":"r4","o":4,"x":3.695,"y":-0.242,"T":422},{"g":"r4","o":5,"x":3.838,"y":-0.14,"T":422},{"g":"r4","o":6,"x":3.89,"y":0,"T":422},
{"g":"r5","o":0,"x":3.13,"y":0,"T":432},{"g":"r5","o":1,"x":3.18,"y":-0.115,"T":432},{"g":"r5","o":2,"x":3.315,"y":-0.2,"T":432},{"g":"r5","o":3,"x":3.5,"y":-0.23,"T":432},{"g":"r5","o":4,"x":3.685,"y":-0.2,"T":432},{"g":"r5","o":5,"x":3.82,"y":-0.115,"T":432},{"g":"r5","o":6,"x":3.87,"y":0,"T":432},
{"g":"r6","o":0,"x":3.15,"y":0,"T":437},{"g":"r6","o":1,"x":3.197,"y":-0.09,"T":437},{"g":"r6","o":2,"x":3.325,"y":-0.156,"T":437},{"g":"r6","o":3,"x":3.5,"y":-0.18,"T":437},{"g":"r6","o":4,"x":3.675,"y":-0.156,"T":437},{"g":"r6","o":5,"x":3.803,"y":-0.09,"T":437},{"g":"r6","o":6,"x":3.85,"y":0,"T":437},
{"g":"r7","o":0,"x":3.17,"y":0,"T":442},{"g":"r7","o":1,"x":3.214,"y":-0.065,"T":442},{"g":"r7","o":2,"x":3.335,"y":-0.113,"T":442},{"g":"r7","o":3,"x":3.5,"y":-0.13,"T":442},{"g":"r7","o":4,"x":3.665,"y":-0.113,"T":442},{"g":"r7","o":5,"x":3.786,"y":-0.065,"T":442},{"g":"r7","o":6,"x":3.83,"y":0,"T":442},
{"g":"r8","o":0,"x":3.2,"y":0,"T":447},{"g":"r8","o":1,"x":3.24,"y":-0.04,"T":447},{"g":"r8","o":2,"x":3.35,"y":-0.069,"T":447},{"g":"r8","o":3,"x":3.5,"y":-0.08,"T":447},{"g":"r8","o":4,"x":3.65,"y":-0.069,"T":447},{"g":"r8","o":5,"x":3.76,"y":-0.04,"T":447},{"g":"r8","o":6,"x":3.8,"y":0,"T":447}
],
"fB": [
{"g":"p0","o":0,"x":0,"y":0,"T":337},{"g":"p0","o":1,"x":10,"y":0,"T":337},{"g":"p0","o":2,"x":10,"y":-10,"T":337},{"g":"p0","o":3,"x":4,"y":-10,"T":337},{"g":"p0","o":4,"x":4,"y":-6,"T":337},{"g":"p0","o":5,"x":1,"y":-6,"T":337},{"g":"p0","o":6,"x":1,"y":-5,"T":337},{"g":"p0","o":7,"x":0,"y":-5,"T":337},
{"g":"p1","o":0,"x":0,"y":0,"T":342},{"g":"p1","o":1,"x":4,"y":0,"T":342},{"g":"p1","o":2,"x":3.9,"y":-0.5,"T":342},{"g":"p1","o":3,"x":3.78,"y":-1.1,"T":342},{"g":"p1","o":4,"x":3.7,"y":-2,"T":342},{"g":"p1","o":5,"x":3.66,"y":-3,"T":342},{"g":"p1","o":6,"x":3.63,"y":-4,"T":342},{"g":"p1","o":7,"x":3.58,"y":-4.8,"T":342},{"g":"p1","o":8,"x":3.5,"y":-5.4,"T":342},{"g":"p1","o":9,"x":3.4,"y":-6,"T":342},{"g":"p1","o":10,"x":1,"y":-6,"T":342},{"g":"p1","o":11,"x":1,"y":-5,"T":342},{"g":"p1","o":12,"x":0,"y":-5,"T":342},
{"g":"p2","o":0,"x":0,"y":0,"T":347},{"g":"p2","o":1,"x":3.98,"y":0,"T":347},{"g":"p2","o":2,"x":3.82,"y":-0.5,"T":347},{"g":"p2","o":3,"x":3.62,"y":-1,"T":347},{"g":"p2","o":4,"x":3.52,"y":-1.6,"T":347},{"g":"p2","o":5,"x":3.48,"y":-2.5,"T":347},{"g":"p2","o":6,"x":3.45,"y":-4,"T":347},{"g":"p2","o":7,"x":3.4,"y":-4.8,"T":347},{"g":"p2","o":8,"x":3.3,"y":-5.4,"T":347},{"g":"p2","o":9,"x":3.15,"y":-6,"T":347},{"g":"p2","o":10,"x":1,"y":-6,"T":347},{"g":"p2","o":11,"x":1,"y":-5,"T":347},{"g":"p2","o":12,"x":0,"y":-5,"T":347},
{"g":"p3","o":0,"x":0,"y":0,"T":352},{"g":"p3","o":1,"x":3.95,"y":0,"T":352},{"g":"p3","o":2,"x":3.72,"y":-0.45,"T":352},{"g":"p3","o":3,"x":3.45,"y":-0.9,"T":352},{"g":"p3","o":4,"x":3.32,"y":-1.4,"T":352},{"g":"p3","o":5,"x":3.27,"y":-2.5,"T":352},{"g":"p3","o":6,"x":3.26,"y":-4,"T":352},{"g":"p3","o":7,"x":3.22,"y":-4.85,"T":352},{"g":"p3","o":8,"x":3.1,"y":-5.4,"T":352},{"g":"p3","o":9,"x":3,"y":-6,"T":352},{"g":"p3","o":10,"x":1,"y":-6,"T":352},{"g":"p3","o":11,"x":1,"y":-5,"T":352},{"g":"p3","o":12,"x":0,"y":-5,"T":352},
{"g":"p4","o":0,"x":0,"y":0,"T":357},{"g":"p4","o":1,"x":3.93,"y":0,"T":357},{"g":"p4","o":2,"x":3.62,"y":-0.4,"T":357},{"g":"p4","o":3,"x":3.35,"y":-0.8,"T":357},{"g":"p4","o":4,"x":3.2,"y":-1.2,"T":357},{"g":"p4","o":5,"x":3.16,"y":-2.5,"T":357},{"g":"p4","o":6,"x":3.15,"y":-4,"T":357},{"g":"p4","o":7,"x":3.12,"y":-4.9,"T":357},{"g":"p4","o":8,"x":3,"y":-5.4,"T":357},{"g":"p4","o":9,"x":2.85,"y":-6,"T":357},{"g":"p4","o":10,"x":1,"y":-6,"T":357},{"g":"p4","o":11,"x":1,"y":-5,"T":357},{"g":"p4","o":12,"x":0,"y":-5,"T":357},
{"g":"p5","o":0,"x":0,"y":0,"T":362},{"g":"p5","o":1,"x":3.9,"y":0,"T":362},{"g":"p5","o":2,"x":3.55,"y":-0.35,"T":362},{"g":"p5","o":3,"x":3.25,"y":-0.7,"T":362},{"g":"p5","o":4,"x":3.12,"y":-1,"T":362},{"g":"p5","o":5,"x":3.09,"y":-2.5,"T":362},{"g":"p5","o":6,"x":3.08,"y":-4,"T":362},{"g":"p5","o":7,"x":3.06,"y":-4.9,"T":362},{"g":"p5","o":8,"x":2.9,"y":-5.35,"T":362},{"g":"p5","o":9,"x":2.6,"y":-6,"T":362},{"g":"p5","o":10,"x":1,"y":-6,"T":362},{"g":"p5","o":11,"x":1,"y":-5,"T":362},{"g":"p5","o":12,"x":0,"y":-5,"T":362},
{"g":"p6","o":0,"x":0,"y":0,"T":367},{"g":"p6","o":1,"x":3.88,"y":0,"T":367},{"g":"p6","o":2,"x":3.5,"y":-0.32,"T":367},{"g":"p6","o":3,"x":3.2,"y":-0.65,"T":367},{"g":"p6","o":4,"x":3.07,"y":-0.95,"T":367},{"g":"p6","o":5,"x":3.05,"y":-2.5,"T":367},{"g":"p6","o":6,"x":3.04,"y":-4.9,"T":367},{"g":"p6","o":7,"x":2.8,"y":-5.2,"T":367},{"g":"p6","o":8,"x":2,"y":-5.35,"T":367},{"g":"p6","o":9,"x":1,"y":-5.46,"T":367},{"g":"p6","o":10,"x":1,"y":-5,"T":367},{"g":"p6","o":11,"x":0,"y":-5,"T":367}
],
"fR": [
{"g":"r1","o":0,"x":3.01,"y":0,"T":372},{"g":"r1","o":1,"x":3.076,"y":-0.26,"T":372},{"g":"r1","o":2,"x":3.255,"y":-0.45,"T":372},{"g":"r1","o":3,"x":3.5,"y":-0.52,"T":372},{"g":"r1","o":4,"x":3.745,"y":-0.45,"T":372},{"g":"r1","o":5,"x":3.924,"y":-0.26,"T":372},{"g":"r1","o":6,"x":3.99,"y":0,"T":372},
{"g":"r2","o":0,"x":3.05,"y":0,"T":382},{"g":"r2","o":1,"x":3.11,"y":-0.215,"T":382},{"g":"r2","o":2,"x":3.275,"y":-0.372,"T":382},{"g":"r2","o":3,"x":3.5,"y":-0.43,"T":382},{"g":"r2","o":4,"x":3.725,"y":-0.372,"T":382},{"g":"r2","o":5,"x":3.89,"y":-0.215,"T":382},{"g":"r2","o":6,"x":3.95,"y":0,"T":382},
{"g":"r3","o":0,"x":3.08,"y":0,"T":392},{"g":"r3","o":1,"x":3.136,"y":-0.175,"T":392},{"g":"r3","o":2,"x":3.29,"y":-0.303,"T":392},{"g":"r3","o":3,"x":3.5,"y":-0.35,"T":392},{"g":"r3","o":4,"x":3.71,"y":-0.303,"T":392},{"g":"r3","o":5,"x":3.864,"y":-0.175,"T":392},{"g":"r3","o":6,"x":3.92,"y":0,"T":392},
{"g":"r4","o":0,"x":3.11,"y":0,"T":402},{"g":"r4","o":1,"x":3.162,"y":-0.14,"T":402},{"g":"r4","o":2,"x":3.305,"y":-0.242,"T":402},{"g":"r4","o":3,"x":3.5,"y":-0.28,"T":402},{"g":"r4","o":4,"x":3.695,"y":-0.242,"T":402},{"g":"r4","o":5,"x":3.838,"y":-0.14,"T":402},{"g":"r4","o":6,"x":3.89,"y":0,"T":402},
{"g":"r5","o":0,"x":3.13,"y":0,"T":407},{"g":"r5","o":1,"x":3.18,"y":-0.115,"T":407},{"g":"r5","o":2,"x":3.315,"y":-0.2,"T":407},{"g":"r5","o":3,"x":3.5,"y":-0.23,"T":407},{"g":"r5","o":4,"x":3.685,"y":-0.2,"T":407},{"g":"r5","o":5,"x":3.82,"y":-0.115,"T":407},{"g":"r5","o":6,"x":3.87,"y":0,"T":407},
{"g":"r6","o":0,"x":3.15,"y":0,"T":412},{"g":"r6","o":1,"x":3.197,"y":-0.09,"T":412},{"g":"r6","o":2,"x":3.325,"y":-0.156,"T":412},{"g":"r6","o":3,"x":3.5,"y":-0.18,"T":412},{"g":"r6","o":4,"x":3.675,"y":-0.156,"T":412},{"g":"r6","o":5,"x":3.803,"y":-0.09,"T":412},{"g":"r6","o":6,"x":3.85,"y":0,"T":412},
{"g":"r7","o":0,"x":3.17,"y":0,"T":417},{"g":"r7","o":1,"x":3.214,"y":-0.065,"T":417},{"g":"r7","o":2,"x":3.335,"y":-0.113,"T":417},{"g":"r7","o":3,"x":3.5,"y":-0.13,"T":417},{"g":"r7","o":4,"x":3.665,"y":-0.113,"T":417},{"g":"r7","o":5,"x":3.786,"y":-0.065,"T":417},{"g":"r7","o":6,"x":3.83,"y":0,"T":417},
{"g":"r8","o":0,"x":3.2,"y":0,"T":422},{"g":"r8","o":1,"x":3.24,"y":-0.04,"T":422},{"g":"r8","o":2,"x":3.35,"y":-0.069,"T":422},{"g":"r8","o":3,"x":3.5,"y":-0.08,"T":422},{"g":"r8","o":4,"x":3.65,"y":-0.069,"T":422},{"g":"r8","o":5,"x":3.76,"y":-0.04,"T":422},{"g":"r8","o":6,"x":3.8,"y":0,"T":422}
]
},
"concat": [
{"width": 663, "height": 603, "title": {"text": "(a) Carbon steel", "dx": 249},
 "encoding": {
  "x": {"field": "x", "type": "quantitative", "scale": {"domain": [0, 11], "nice": false, "zero": false}, "axis": {"title": "R (mm)", "values": [0,0.5,1,1.5,2,2.5,3,3.5,4,4.5,5,5.5,6,6.5,7,7.5,8,8.5,9,9.5,10,10.5,11], "labelExpr": "datum.value % 2 === 0 && datum.value <= 10 ? '' + datum.value : ''"}},
  "y": {"field": "y", "type": "quantitative", "scale": {"domain": [-10, 0], "nice": false, "zero": false}, "axis": {"title": "Y (mm)", "values": [-10,-9.5,-9,-8.5,-8,-7.5,-7,-6.5,-6,-5.5,-5,-4.5,-4,-3.5,-3,-2.5,-2,-1.5,-1,-0.5,0], "labelExpr": "datum.value % 2 === 0 ? '' + datum.value : ''"}},
  "color": {"field": "T", "type": "quantitative", "scale": {"type": "threshold", "domain": [365,370,375,380,385,390,395,400,405,410,415,420,425,430,435,440,445], "range": ["#001bf2","#0046f2","#0080f2","#00b6f2","#00f0f2","#00f2bc","#00f287","#00f251","#00f21b","#1bf200","#51f200","#87f200","#bcf200","#f2f200","#fabc00","#fa8700","#fa5100","#f51b00"]}, "legend": {"type": "gradient", "title": "T", "orient": "none", "legendX": 625, "legendY": 70, "gradientLength": 398, "direction": "vertical", "titleAnchor": "end"}},
  "detail": {"field": "g", "type": "nominal"},
  "order": {"field": "o", "type": "quantitative"}
 },
 "layer": [
  {"data": {"name": "aB"}, "mark": {"type": "line", "filled": true, "clip": true}},
  {"data": {"name": "aR"}, "mark": {"type": "line", "filled": true, "clip": true, "interpolate": "cardinal"}}
 ]
},
{"width": 663, "height": 603, "title": {"text": "(b) Stainless steel", "dx": 263},
 "encoding": {
  "x": {"field": "x", "type": "quantitative", "scale": {"domain": [0, 11], "nice": false, "zero": false}, "axis": {"title": "R (mm)", "values": [0,0.5,1,1.5,2,2.5,3,3.5,4,4.5,5,5.5,6,6.5,7,7.5,8,8.5,9,9.5,10,10.5,11], "labelExpr": "datum.value % 2 === 0 && datum.value <= 10 ? '' + datum.value : ''"}},
  "y": {"field": "y", "type": "quantitative", "scale": {"domain": [-10, 0], "nice": false, "zero": false}, "axis": {"title": "Y (mm)", "values": [-10,-9.5,-9,-8.5,-8,-7.5,-7,-6.5,-6,-5.5,-5,-4.5,-4,-3.5,-3,-2.5,-2,-1.5,-1,-0.5,0], "labelExpr": "datum.value % 2 === 0 ? '' + datum.value : ''"}},
  "color": {"field": "T", "type": "quantitative", "scale": {"type": "threshold", "domain": [365,370,375,380,385,390,395,400,405,410,415,420,425,430,435,440,445], "range": ["#001bf2","#0046f2","#0080f2","#00b6f2","#00f0f2","#00f2bc","#00f287","#00f251","#00f21b","#1bf200","#51f200","#87f200","#bcf200","#f2f200","#fabc00","#fa8700","#fa5100","#f51b00"]}, "legend": {"type": "gradient", "title": "T", "orient": "none", "legendX": 625, "legendY": 70, "gradientLength": 398, "direction": "vertical", "titleAnchor": "end"}},
  "detail": {"field": "g", "type": "nominal"},
  "order": {"field": "o", "type": "quantitative"}
 },
 "layer": [
  {"data": {"name": "bB"}, "mark": {"type": "line", "filled": true, "clip": true}},
  {"data": {"name": "bR"}, "mark": {"type": "line", "filled": true, "clip": true, "interpolate": "cardinal"}}
 ]
},
{"width": 663, "height": 603, "title": {"text": "(c) Aluminum", "dx": 249},
 "encoding": {
  "x": {"field": "x", "type": "quantitative", "scale": {"domain": [0, 11], "nice": false, "zero": false}, "axis": {"title": "R (mm)", "values": [0,0.5,1,1.5,2,2.5,3,3.5,4,4.5,5,5.5,6,6.5,7,7.5,8,8.5,9,9.5,10,10.5,11], "labelExpr": "datum.value % 2 === 0 && datum.value <= 10 ? '' + datum.value : ''"}},
  "y": {"field": "y", "type": "quantitative", "scale": {"domain": [-10, 0], "nice": false, "zero": false}, "axis": {"title": "Y (mm)", "values": [-10,-9.5,-9,-8.5,-8,-7.5,-7,-6.5,-6,-5.5,-5,-4.5,-4,-3.5,-3,-2.5,-2,-1.5,-1,-0.5,0], "labelExpr": "datum.value % 2 === 0 ? '' + datum.value : ''"}},
  "color": {"field": "T", "type": "quantitative", "scale": {"type": "threshold", "domain": [380,385,390,395,400,405,410,415,420,425,430,435,440,445,450,455], "range": ["#001cf2","#0050f2","#0088f2","#00c0f2","#00f2e8","#00f2ab","#00f272","#00f239","#00f200","#39f200","#72f200","#abf200","#e4f200","#fac800","#fa8f00","#fa5600","#f51c00"]}, "legend": {"type": "gradient", "title": "T", "orient": "none", "legendX": 627, "legendY": 70, "gradientLength": 376, "direction": "vertical", "titleAnchor": "end"}},
  "detail": {"field": "g", "type": "nominal"},
  "order": {"field": "o", "type": "quantitative"}
 },
 "layer": [
  {"data": {"name": "cB"}, "mark": {"type": "line", "filled": true, "clip": true}},
  {"data": {"name": "cR"}, "mark": {"type": "line", "filled": true, "clip": true, "interpolate": "cardinal"}}
 ]
},
{"width": 663, "height": 603, "title": {"text": "(d) Alumina", "dx": 303},
 "encoding": {
  "x": {"field": "x", "type": "quantitative", "scale": {"domain": [0, 11], "nice": false, "zero": false}, "axis": {"title": "R (mm)", "values": [0,0.5,1,1.5,2,2.5,3,3.5,4,4.5,5,5.5,6,6.5,7,7.5,8,8.5,9,9.5,10,10.5,11], "labelExpr": "datum.value % 2 === 0 && datum.value <= 10 ? '' + datum.value : ''"}},
  "y": {"field": "y", "type": "quantitative", "scale": {"domain": [-10, 0], "nice": false, "zero": false}, "axis": {"title": "Y (mm)", "values": [-10,-9.5,-9,-8.5,-8,-7.5,-7,-6.5,-6,-5.5,-5,-4.5,-4,-3.5,-3,-2.5,-2,-1.5,-1,-0.5,0], "labelExpr": "datum.value % 2 === 0 ? '' + datum.value : ''"}},
  "color": {"field": "T", "type": "quantitative", "scale": {"type": "threshold", "domain": [365,370,375,380,385,390,395,400,405,410,415,420,425,430,435,440,445], "range": ["#001bf2","#0046f2","#0080f2","#00b6f2","#00f0f2","#00f2bc","#00f287","#00f251","#00f21b","#1bf200","#51f200","#87f200","#bcf200","#f2f200","#fabc00","#fa8700","#fa5100","#f51b00"]}, "legend": {"type": "gradient", "title": "T", "orient": "none", "legendX": 620, "legendY": 72, "gradientLength": 396, "direction": "vertical", "titleAnchor": "end"}},
  "detail": {"field": "g", "type": "nominal"},
  "order": {"field": "o", "type": "quantitative"}
 },
 "layer": [
  {"data": {"name": "dB"}, "mark": {"type": "line", "filled": true, "clip": true}},
  {"data": {"name": "dR"}, "mark": {"type": "line", "filled": true, "clip": true, "interpolate": "cardinal"}}
 ]
},
{"width": 663, "height": 603, "title": {"text": "(e) Copper", "dx": 249},
 "encoding": {
  "x": {"field": "x", "type": "quantitative", "scale": {"domain": [0, 11], "nice": false, "zero": false}, "axis": {"title": "R (mm)", "values": [0,0.5,1,1.5,2,2.5,3,3.5,4,4.5,5,5.5,6,6.5,7,7.5,8,8.5,9,9.5,10,10.5,11], "labelExpr": "datum.value % 2 === 0 && datum.value <= 10 ? '' + datum.value : ''"}},
  "y": {"field": "y", "type": "quantitative", "scale": {"domain": [-10, 0], "nice": false, "zero": false}, "axis": {"title": "Y (mm)", "values": [-10,-9.5,-9,-8.5,-8,-7.5,-7,-6.5,-6,-5.5,-5,-4.5,-4,-3.5,-3,-2.5,-2,-1.5,-1,-0.5,0], "labelExpr": "datum.value % 2 === 0 ? '' + datum.value : ''"}},
  "color": {"field": "T", "type": "quantitative", "scale": {"type": "threshold", "domain": [365,370,375,380,385,390,395,400,405,410,415,420,425,430,435,440,445], "range": ["#001bf2","#0046f2","#0080f2","#00b6f2","#00f0f2","#00f2bc","#00f287","#00f251","#00f21b","#1bf200","#51f200","#87f200","#bcf200","#f2f200","#fabc00","#fa8700","#fa5100","#f51b00"]}, "legend": {"type": "gradient", "title": "T", "orient": "none", "legendX": 624, "legendY": 72, "gradientLength": 400, "direction": "vertical", "titleAnchor": "end"}},
  "detail": {"field": "g", "type": "nominal"},
  "order": {"field": "o", "type": "quantitative"}
 },
 "layer": [
  {"data": {"name": "eB"}, "mark": {"type": "line", "filled": true, "clip": true}},
  {"data": {"name": "eR"}, "mark": {"type": "line", "filled": true, "clip": true, "interpolate": "cardinal"}}
 ]
},
{"width": 663, "height": 603, "title": {"text": "(f) Brass", "dx": 297},
 "encoding": {
  "x": {"field": "x", "type": "quantitative", "scale": {"domain": [0, 11], "nice": false, "zero": false}, "axis": {"title": "R (mm)", "values": [0,0.5,1,1.5,2,2.5,3,3.5,4,4.5,5,5.5,6,6.5,7,7.5,8,8.5,9,9.5,10,10.5,11], "labelExpr": "datum.value % 2 === 0 && datum.value <= 10 ? '' + datum.value : ''"}},
  "y": {"field": "y", "type": "quantitative", "scale": {"domain": [-10, 0], "nice": false, "zero": false}, "axis": {"title": "Y (mm)", "values": [-10,-9.5,-9,-8.5,-8,-7.5,-7,-6.5,-6,-5.5,-5,-4.5,-4,-3.5,-3,-2.5,-2,-1.5,-1,-0.5,0], "labelExpr": "datum.value % 2 === 0 ? '' + datum.value : ''"}},
  "color": {"field": "T", "type": "quantitative", "scale": {"type": "threshold", "domain": [340,345,350,355,360,365,370,375,380,385,390,395,400,405,410,415,420], "range": ["#001bf2","#0046f2","#0080f2","#00b6f2","#00f0f2","#00f2bc","#00f287","#00f251","#00f21b","#1bf200","#51f200","#87f200","#bcf200","#f2f200","#fabc00","#fa8700","#fa5100","#f51b00"]}, "legend": {"type": "gradient", "title": "T", "orient": "none", "legendX": 625, "legendY": 70, "gradientLength": 404, "direction": "vertical", "titleAnchor": "end"}},
  "detail": {"field": "g", "type": "nominal"},
  "order": {"field": "o", "type": "quantitative"}
 },
 "layer": [
  {"data": {"name": "fB"}, "mark": {"type": "line", "filled": true, "clip": true}},
  {"data": {"name": "fR"}, "mark": {"type": "line", "filled": true, "clip": true, "interpolate": "cardinal"}}
 ]
}
]
}
